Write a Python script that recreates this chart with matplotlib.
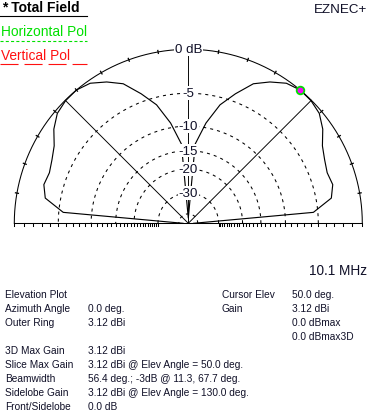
import numpy as np
import matplotlib
matplotlib.use("Agg")
import matplotlib.pyplot as plt

plt.rcParams['font.family'] = ['Liberation Sans', 'DejaVu Sans']
plt.rcParams['lines.scale_dashes'] = False

# ---------------- data ----------------
elev_deg = list(range(0, 181, 5))
pattern_db = [-60.0, -5.6, -3.1, -2.6, -2.8, -2.5, -2.0, -1.0, -0.3, -0.05, 0.0,
              -0.3, -1.1, -2.1, -4.0, -6.0, -9.2, -13.4, -60.0,
              -13.4, -9.2, -6.0, -4.0, -2.1, -1.1, -0.3, 0.0, -0.05, -0.3,
              -1.0, -2.0, -2.5, -2.8, -2.6, -3.1, -5.6, -60.0]
ring_db = [-5, -10, -15, -20, -30, -50]
ring_labels = ["-5", "-10", "-15", "-20", "-30", ""]
cursor_elev = 50.0
cursor_db = 0.0
ring_tick_angles = list(range(10, 180, 10))
base_tick_db = list(range(-1, -31, -1))

legend_items = ["* Total Field", "Horizontal Pol", "Vertical Pol"]
freq_text = "10.1 MHz"
info_left = [("Elevation Plot", ""), ("Azimuth Angle", "0.0 deg."), ("Outer Ring", "3.12 dBi"),
             ("", ""), ("3D Max Gain", "3.12 dBi"),
             ("Slice Max Gain", "3.12 dBi @ Elev Angle = 50.0 deg."),
             ("Beamwidth", "56.4 deg.; -3dB @ 11.3, 67.7 deg."),
             ("Sidelobe Gain", "3.12 dBi @ Elev Angle = 130.0 deg."),
             ("Front/Sidelobe", "0.0 dB")]
info_right = [("Cursor Elev", "50.0 deg."), ("Gain", "3.12 dBi"), ("", "0.0 dBmax"), ("", "0.0 dBmax3D")]


def arrl_r(db):
    # ARRL log scale: 0.89 radius factor per 2 dB
    return 0.89 ** (-np.asarray(db, dtype=float) / 2.0)


W, H = 370, 414
fig = plt.figure(figsize=(W / 100, H / 100), dpi=100)
fig.patch.set_facecolor("white")

ax = fig.add_axes([0, 0, 1, 1])
ax.set_xlim(0, W)
ax.set_ylim(H, 0)
ax.axis("off")

cx, cy, R = 188.3, 224.3, 174.0
axp = fig.add_axes([(cx - R) / W, (H - cy) / H, 2 * R / W, R / H])
axp.set_xlim(-1, 1)
axp.set_ylim(0, 1)
axp.axis("off")

lw = 0.75
px = 1.0 / R  # one pixel in polar-axes units

# outer ring
th = np.radians(np.linspace(0, 180, 361))
axp.plot(np.cos(th), np.sin(th), color="black", lw=lw, clip_on=False)
# dashed rings
for d in ring_db:
    r = arrl_r(d)
    axp.plot(r * np.cos(th), r * np.sin(th), color="black", lw=lw,
             dashes=(2.2, 2.9), clip_on=False)
# baseline
axp.plot([-1, 1], [0, 0], color="black", lw=lw, clip_on=False)
# radial lines
for a in (45, 90, 135):
    t = np.radians(a)
    axp.plot([0, np.cos(t)], [0, np.sin(t)], color="black", lw=lw * 0.9, clip_on=False)
# outer ring ticks
for a in ring_tick_angles:
    t = np.radians(a)
    axp.plot([(1 - 1.5 * px) * np.cos(t), (1 + 1.5 * px) * np.cos(t)],
             [(1 - 1.5 * px) * np.sin(t), (1 + 1.5 * px) * np.sin(t)],
             color="black", lw=lw * 1.2, clip_on=False)
# baseline ticks
for d in [0] + base_tick_db:
    r = float(arrl_r(d))
    for s in (-1, 1):
        axp.plot([s * r, s * r], [0, -3 * px], color="black", lw=lw, clip_on=False)

# pattern
rr = arrl_r(pattern_db)
tt = np.radians(elev_deg)
axp.plot(rr * np.cos(tt), rr * np.sin(tt), color="black", lw=lw * 1.1, clip_on=False, zorder=4)

# cursor marker
rc = float(arrl_r(cursor_db))
tc = np.radians(cursor_elev)
axp.plot([rc * np.cos(tc)], [rc * np.sin(tc)], marker="o", ms=5.5, mfc="#FF00FF",
         mec="#00E000", mew=1.3, clip_on=False, zorder=6)

# ring labels
lab_kw = dict(ha="center", va="center", fontsize=9.6, color="#101028", zorder=7,
              bbox=dict(facecolor="white", edgecolor="none", pad=0.6))
axp.text(0, 1, "0 dB", **lab_kw)
for d, lab in zip(ring_db, ring_labels):
    if lab:
        axp.text(0, float(arrl_r(d)), lab, **lab_kw)

# legend
ax.text(2, 12, legend_items[0], fontsize=10, fontweight="bold", color="black", va="baseline")
ax.plot([0, 87], [16.7, 16.7], color="black", lw=0.8)
ax.text(1, 36, legend_items[1], fontsize=9.9, color="#00E000", va="baseline")
ax.plot([0, 87], [41.5, 41.5], color="#00E000", lw=0.8, dashes=(2.2, 1.6))
ax.text(1, 59.5, legend_items[2], fontsize=9.9, color="#FF1010", va="baseline")
ax.plot([0, 87], [65, 65], color="#FF1010", lw=0.8, dashes=(13.0, 4.3))

ax.text(367, 12.7, "EZNEC+", fontsize=9.6, color="#101028", ha="right", va="baseline")
ax.text(367, 275, freq_text, fontsize=9.8, color="#101028", ha="right", va="baseline")

fs = 7.3
y0, dy = 297.7, 14.0
for i, (lab, val) in enumerate(info_left):
    y = y0 + i * dy
    if lab:
        ax.text(5, y, lab, fontsize=fs, color="#101028", va="baseline")
    if val:
        ax.text(88, y, val, fontsize=fs, color="#101028", va="baseline")
for i, (lab, val) in enumerate(info_right):
    y = y0 + i * dy
    if lab:
        ax.text(222, y, lab, fontsize=fs, color="#101028", va="baseline")
    if val:
        ax.text(292, y, val, fontsize=fs, color="#101028", va="baseline")

fig.savefig("out.png", dpi=100, facecolor="white")
